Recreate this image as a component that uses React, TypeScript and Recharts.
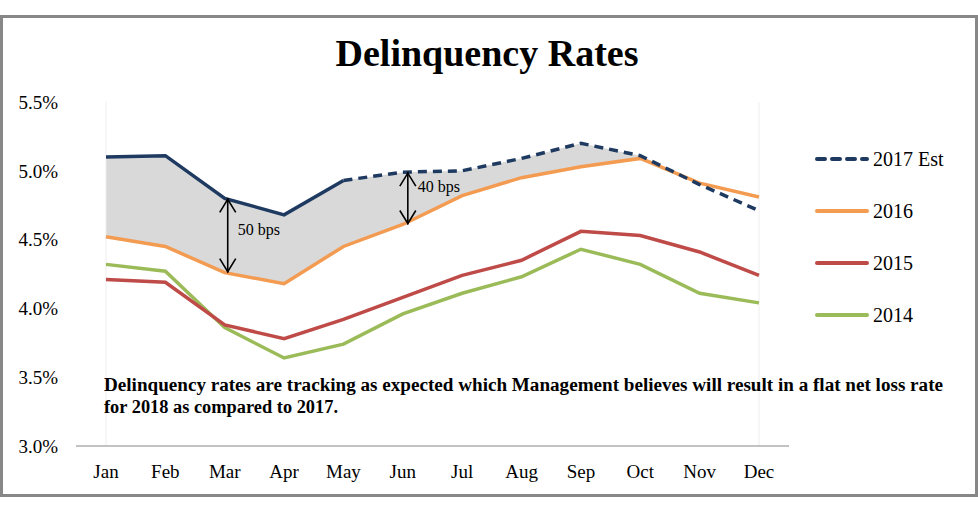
import React from "react";
import { ComposedChart, Line, Area, XAxis, YAxis, ReferenceLine } from "recharts";

const months = ["Jan", "Feb", "Mar", "Apr", "May", "Jun", "Jul", "Aug", "Sep", "Oct", "Nov", "Dec"];
const est2017 = [5.1, 5.11, 4.8, 4.68, 4.93, 4.99, 5.0, 5.09, 5.2, 5.11, 4.9, 4.71];
const y2016 = [4.52, 4.45, 4.26, 4.18, 4.45, 4.61, 4.82, 4.95, 5.03, 5.09, 4.91, 4.81];
const y2015 = [4.21, 4.19, 3.88, 3.78, 3.92, 4.08, 4.24, 4.35, 4.56, 4.53, 4.41, 4.24];
const y2014 = [4.32, 4.27, 3.86, 3.64, 3.74, 3.96, 4.11, 4.23, 4.43, 4.32, 4.11, 4.04];
const actualMonths = 5; // Jan-May are actuals, rest is the estimate
const yTicks = [3.0, 3.5, 4.0, 4.5, 5.0, 5.5];

const gapNotes = [
  { month: "Mar", label: "50 bps" },
  { month: "Jun", label: "40 bps" },
];

const legendItems = [
  { name: "2017 Est", color: "#1F3A60", dashed: true },
  { name: "2016", color: "#F49B52", dashed: false },
  { name: "2015", color: "#BE4B48", dashed: false },
  { name: "2014", color: "#9BBB59", dashed: false },
];

const note1 =
  "Delinquency rates are tracking as expected which Management believes will result in a flat net loss rate";
const note2 = "for 2018 as compared to 2017.";

const data = months.map((m, i) => ({
  month: m,
  actual2017: i < actualMonths ? est2017[i] : null,
  est2017: i >= actualMonths - 1 ? est2017[i] : null,
  y2016: y2016[i],
  y2015: y2015[i],
  y2014: y2014[i],
  gap: [y2016[i], Math.max(y2016[i], est2017[i])],
}));

const serif = "'Liberation Serif', 'Times New Roman', serif";

function GapArrow(props: any) {
  const { x1, y1, y2, text, dx, labelY } = props;
  const x = x1 + dx;
  const top = Math.min(y1, y2);
  const bot = Math.max(y1, y2);
  return (
    <g>
      <line x1={x} y1={top} x2={x} y2={bot} stroke="#000" strokeWidth={1.6} />
      <polyline points={`${x - 8},${top + 14} ${x},${top + 1} ${x + 8},${top + 14}`} fill="none" stroke="#000" strokeWidth={1.6} />
      <polyline points={`${x - 8},${bot - 14} ${x},${bot - 1} ${x + 8},${bot - 14}`} fill="none" stroke="#000" strokeWidth={1.6} />
      <text x={x + 10} y={top + labelY} fontFamily={serif} fontSize={16} fill="#000">
        {text}
      </text>
    </g>
  );
}

export default function App() {
  const tickStyle = { fontFamily: serif, fontSize: 19, fill: "#000" };
  return (
    <div style={{ position: "absolute", left: 0, top: 0, width: 978, height: 512, background: "#fff" }}>
      <div
        style={{
          position: "absolute",
          left: 0,
          top: 15,
          width: 978,
          height: 482,
          border: "3px solid #878787",
          boxSizing: "border-box",
        }}
      />
      <div style={{ position: "absolute", left: 0, top: 0 }}>
        <ComposedChart width={978} height={512} data={data} margin={{ top: 102, right: 189, bottom: 36, left: 0 }}>
          <XAxis
            dataKey="month"
            padding={{ left: 30, right: 30 }}
            axisLine={{ stroke: "#868686" }}
            tickLine={false}
            tick={tickStyle}
            tickMargin={13}
            height={30}
          />
          <YAxis
            domain={[3, 5.5]}
            ticks={yTicks}
            axisLine={false}
            tickLine={false}
            tick={tickStyle}
            tickMargin={12}
            width={76}
            tickFormatter={(v: number) => v.toFixed(1) + "%"}
          />
          <ReferenceLine x="Jan" stroke="#eeeeee" />
          <ReferenceLine x="Dec" stroke="#eeeeee" />
          <Area dataKey="gap" type="linear" stroke="none" fill="#D9D9D9" fillOpacity={1} isAnimationActive={false} />
          <Line dataKey="y2014" stroke="#9BBB59" strokeWidth={3.5} dot={false} isAnimationActive={false} />
          <Line dataKey="y2015" stroke="#BE4B48" strokeWidth={3.5} dot={false} isAnimationActive={false} />
          <Line dataKey="y2016" stroke="#F49B52" strokeWidth={3.5} dot={false} isAnimationActive={false} />
          <Line dataKey="actual2017" stroke="#1F3A60" strokeWidth={3.5} dot={false} isAnimationActive={false} />
          <Line
            dataKey="est2017"
            stroke="#1F3A60"
            strokeWidth={3.5}
            strokeDasharray="9 6"
            dot={false}
            isAnimationActive={false}
          />
          {gapNotes.map((g, k) => {
            const i = months.indexOf(g.month);
            return (
              <ReferenceLine
                key={g.month}
                segment={[
                  { x: g.month, y: est2017[i] },
                  { x: g.month, y: y2016[i] },
                ]}
                shape={(p: any) => (
                  <GapArrow {...p} text={g.label} dx={k === 0 ? 3 : 5} labelY={k === 0 ? 37 : 20} />
                )}
              />
            );
          })}
        </ComposedChart>
      </div>
      <svg width={978} height={512} style={{ position: "absolute", left: 0, top: 0, pointerEvents: "none" }}>
        <text x={487} y={66} textAnchor="middle" fontFamily={serif} fontWeight="bold" fontSize={38} fill="#000">
          Delinquency Rates
        </text>
        <text x={104} y={391} fontFamily={serif} fontWeight="bold" fontSize={18} fill="#000" textLength={839} lengthAdjust="spacingAndGlyphs">
          {note1}
        </text>
        <text x={104} y={413} fontFamily={serif} fontWeight="bold" fontSize={18} fill="#000" textLength={234} lengthAdjust="spacingAndGlyphs">
          {note2}
        </text>
        {legendItems.map((it, i) => {
          const y = 159 + i * 52;
          return (
            <g key={it.name}>
              <line
                x1={817}
                y1={y}
                x2={867}
                y2={y}
                stroke={it.color}
                strokeWidth={4}
                strokeLinecap="round"
                strokeDasharray={it.dashed ? "8 7" : undefined}
              />
              <text x={873} y={y + 7} fontFamily={serif} fontSize={20} fill="#000">
                {it.name}
              </text>
            </g>
          );
        })}
      </svg>
    </div>
  );
}
